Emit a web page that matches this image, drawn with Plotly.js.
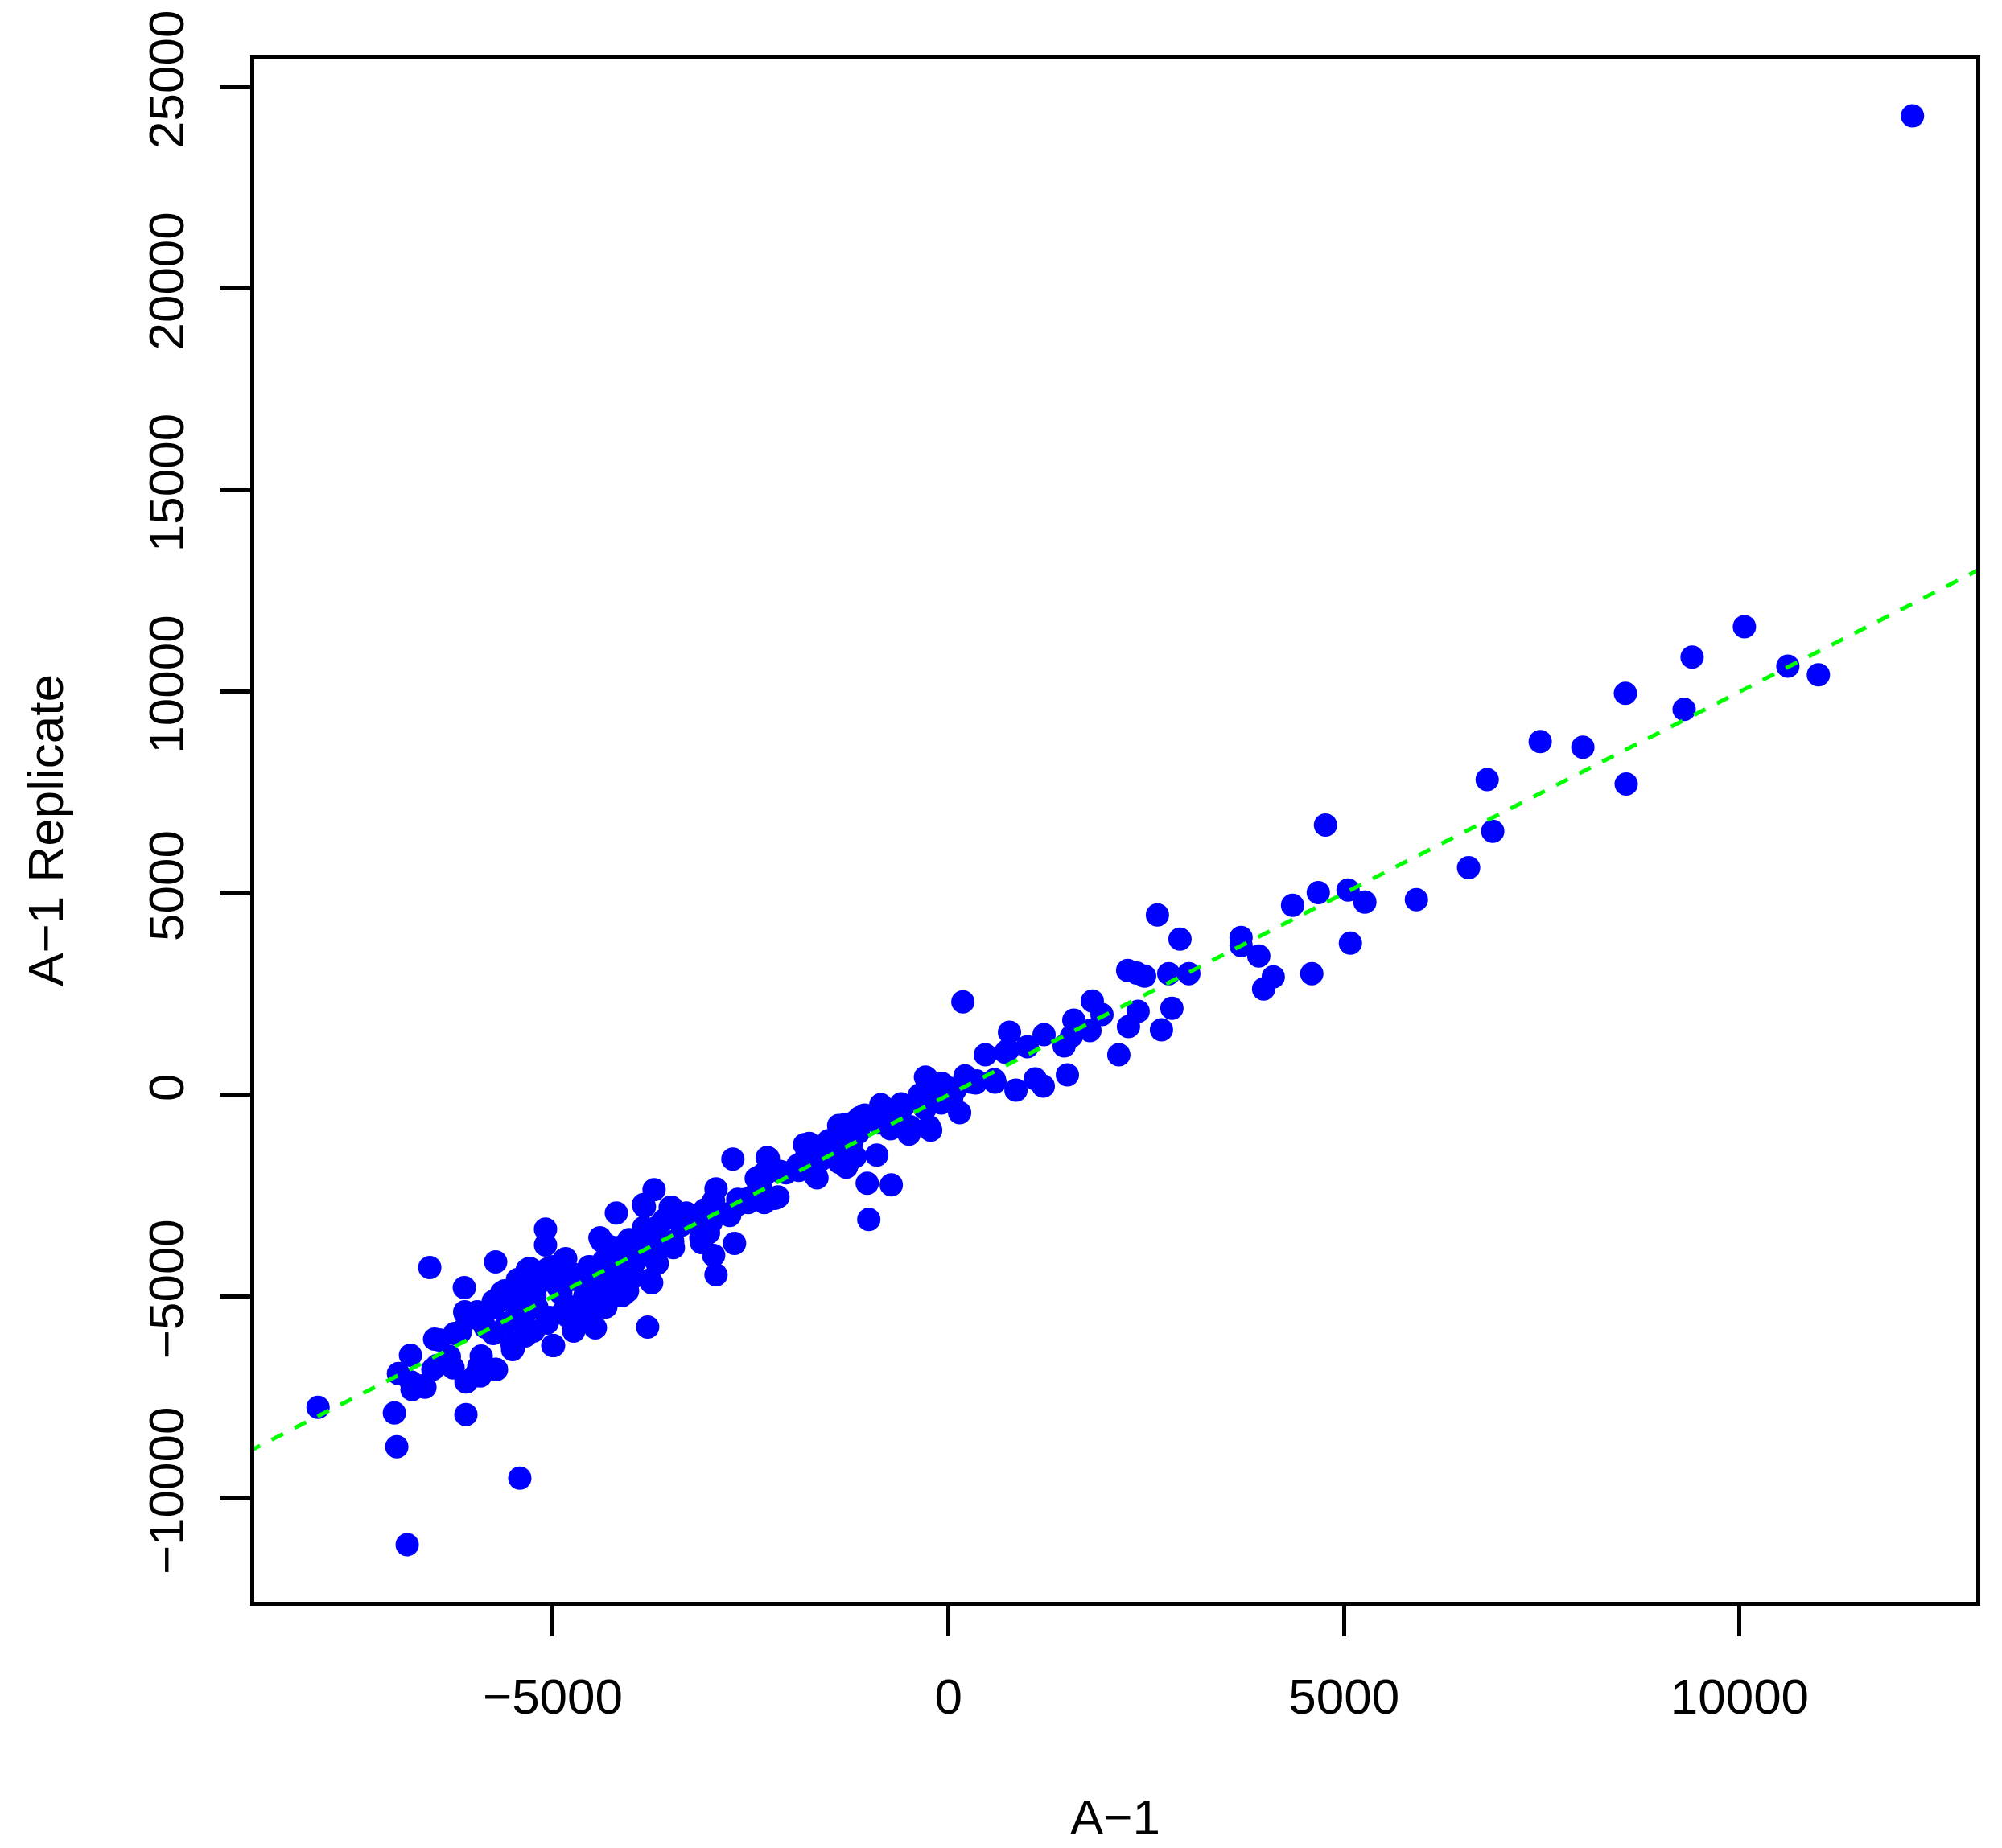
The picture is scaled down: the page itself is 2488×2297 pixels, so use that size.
<!DOCTYPE html>
<html>
<head>
<meta charset="utf-8">
<script src="https://cdn.plot.ly/plotly-3.0.1.min.js"></script>
<style>html,body{margin:0;padding:0;background:#fff;}#plot{width:2488px;height:2297px;}</style>
</head>
<body>
<div id="plot"></div>
<script>
// Data: A-1 (x) vs A-1 Replicate (y)
const pts = [
[12185,24283],[10061,11614],[9400,10857],[10610,10637],[10996,10418],[8557,9960],[9299,9562],
[7480,8765],[8019,8625],[8567,7709],[6810,7820],[6880,6540],[6575,5637],[4766,6693],[5915,4841],
[5264,4781],[5051,5080],[4675,5020],[4350,4701],[5081,3765],[4593,3008],[3699,3905],[3699,3705],
[3923,3446],[4106,2928],[3984,2629],[2642,4462],[2927,3865],[2266,3088],[2380,3020],[2480,2948],
[2785,3008],[3039,3008],[2825,2151],[2398,2072],[2276,1693],[2693,1614],[2154,996],[1819,2331],
[1941,1992],[1789,1594],[1585,1853],[1555,1454],[1463,1215],[1504,498],[183,2311],[772,1554],
[1209,1494],[752,1116],[996,1195],[467,996],[722,1056],[1098,398],[1199,219],[854,120],[589,319],
[346,299],[285,319],[213,458],[142,-438],[81,120],[41,-80],[32,158],[210,475],[355,348],[581,380],
[-91,199],[-274,418],[-81,285],[-161,32],[-290,443],[-91,-199],[-295,-339],[-569,-279],[-366,0],
[-224,-876],[-242,-791],[-498,-976],[-484,-791],[-732,-837],[-854,-239],[-597,-222],[-710,-633],
[-887,-696],[-1057,-498],[-1161,-633],[-1120,-560],[-905,-1494],[-1280,-1733],[-1026,-2191],
[-722,-2231],[-1006,-3088],[-1311,-737],[-1387,-760],[-1323,-855],[-1452,-1108],[-1514,-1136],
[-1226,-1203],[-1138,-936],[-1748,-1275],[-1758,-1203],[-1382,-1673],[-1179,-1534],[-1291,-1793],
[-1419,-1519],[-1532,-1266],[-1613,-1614],[-1661,-2057],[-1890,-1873],[-1687,-1992],[-1807,-1582],
[-1903,-1741],[-1819,-1235],[-2129,-1899],[-2053,-1932],[-2290,-1551],[-2339,-1962],[-2194,-2564],
[-2371,-2310],[-2484,-2532],[-2581,-2595],[-2724,-1594],[-2276,-1574],[-2327,-1992],[-2154,-2530],
[-2429,-2072],[-2937,-2331],[-2764,-2988],[-2530,-2669],[-2327,-2669],[-2663,-2590],[-2661,-2722],
[-2774,-2943],[-2903,-2943],[-2968,-2627],[-3039,-2928],[-3120,-3665],[-2703,-3685],[-2967,-3984],
[-2937,-4462],[-3000,-3165],[-3081,-2848],[-3129,-3545],[-3032,-3418],[-3258,-3102],[-3307,-2975],
[-3371,-3228],[-3484,-3640],[-3500,-2785],[-3597,-3102],[-3694,-3292],[-3726,-3956],[-3855,-2722],
[-3871,-3640],[-3775,-4589],[-3801,-5757],[-3720,-2351],[-3842,-2769],[-4197,-2928],[-3516,-2789],
[-3313,-2928],[-3852,-3287],[-3476,-3785],[-3679,-3725],[-3750,-4661],[-3679,-4183],[-3923,-3984],
[-3952,-4114],[-4035,-3586],[-4081,-3703],[-4380,-3626],[-4187,-3865],[-4228,-3785],[-4289,-4363],
[-4146,-4431],[-4081,-4906],[-3984,-4522],[-4055,-4861],[-4307,-3735],[-4404,-3545],[-4355,-4114],
[-4516,-4273],[-4543,-4263],[-4581,-4653],[-4549,-5444],[-4339,-5159],[-4275,-4779],[-4484,-5032],
[-4360,-5259],[-4563,-5558],[-4329,-5259],[-4126,-4980],[-4594,-4980],[-4462,-4721],[-4462,-5777],
[-4695,-4462],[-4766,-4582],[-4736,-5259],[-4736,-5857],[-4797,-5518],[-4837,-4064],[-4855,-4083],
[-4758,-4494],[-4936,-4747],[-4939,-4721],[-4899,-4920],[-4868,-5378],[-5000,-4263],[-5049,-4304],
[-5092,-3327],[-5092,-3725],[-5071,-4323],[-5146,-4621],[-5041,-5518],[-5071,-5658],[-4990,-6215],
[-5000,-6215],[-5226,-4969],[-5203,-4721],[-5244,-4462],[-5274,-4323],[-5295,-4303],[-5323,-4336],
[-5203,-5259],[-5244,-5259],[-5244,-5857],[-5371,-5096],[-5376,-5518],[-5346,-5976],[-5339,-5855],
[-5452,-4747],[-5447,-4582],[-5478,-5179],[-5533,-5064],[-5508,-6315],[-5498,-6275],[-5516,-6172],
[-5610,-4861],[-5610,-4920],[-5646,-4906],[-5722,-4143],[-5732,-5179],[-5752,-5120],[-5758,-5285],
[-5580,-5658],[-5752,-5917],[-5855,-5760],[-5712,-6813],[-5726,-6805],[-5905,-6474],[-5915,-6972],
[-5955,-5378],[-5968,-5539],[-5936,-6741],[-5984,-6963],[-6088,-7112],[-6097,-7121],[-6108,-5418],
[-6113,-5380],[-6118,-4781],[-6169,-5877],[-6242,-5918],[-6260,-6773],[-6307,-6488],[-6436,-6077],
[-6463,-6713],[-6494,-6056],[-6516,-6805],[-6555,-4283],[-6616,-7251],[-6645,-7216],[-6779,-7311],
[-6791,-7121],[-6799,-6454],[-6951,-6912],[-7967,-7749],[-7002,-7889],[-6098,-7928],[-6972,-8725],
[-5417,-9502],[-6840,-11155]
];
const xA1 = pts.map(p => p[0]);
const yRep = pts.map(p => p[1]);

const xTicks = [-5000, 0, 5000, 10000];
const yTicks = [-10000, -5000, 0, 5000, 10000, 15000, 20000, 25000];
const refSlope = 1, refIntercept = 0;

function padRange(arr) {
  const mn = Math.min(...arr), mx = Math.max(...arr), d = (mx - mn) * 0.04;
  return [mn - d, mx + d];
}
const xr = padRange(xA1), yr = padRange(yRep);

const font = {family: 'Liberation Sans, Arial, Helvetica, sans-serif', size: 62, color: '#000'};

const traces = [
  {x: xA1, y: yRep, type: 'scatter', mode: 'markers',
   marker: {color: '#0000FF', size: 29, line: {width: 0}}, hoverinfo: 'x+y'},
  {x: [xr[0] - 5000, xr[1] + 5000],
   y: [refSlope * (xr[0] - 5000) + refIntercept, refSlope * (xr[1] + 5000) + refIntercept],
   type: 'scatter', mode: 'lines',
   line: {color: '#00FF00', width: 5, dash: '16px,16px'}}
];

const axisCommon = {
  showgrid: false, zeroline: false, showline: true, mirror: true,
  linecolor: '#000', linewidth: 5, ticks: 'outside', ticklen: 38, tickwidth: 5,
  tickcolor: '#000', tickfont: font, automargin: false
};

const layout = {
  width: 2488, height: 2297,
  margin: {l: 316, r: 32, t: 73, b: 306},
  paper_bgcolor: '#fff', plot_bgcolor: '#fff',
  showlegend: false, font: font,
  xaxis: Object.assign({}, axisCommon, {
    range: xr, tickmode: 'array', tickvals: xTicks,
    ticktext: xTicks.map(v => v < 0 ? '\u2212' + Math.abs(v) : String(v)),
    ticklabelstandoff: 22,
    title: {text: 'A\u22121', font: font, standoff: 96}
  }),
  yaxis: Object.assign({}, axisCommon, {
    range: yr, tickmode: 'array', tickvals: yTicks,
    ticktext: yTicks.map(v => v < 0 ? '\u2212' + Math.abs(v) : String(v)),
    tickangle: -90, ticklabelstandoff: 20,
    title: {text: 'A\u22121 Replicate', font: font, standoff: 75}
  })
};

Plotly.newPlot('plot', traces, layout, {staticPlot: true, displayModeBar: false});
</script>
</body>
</html>
